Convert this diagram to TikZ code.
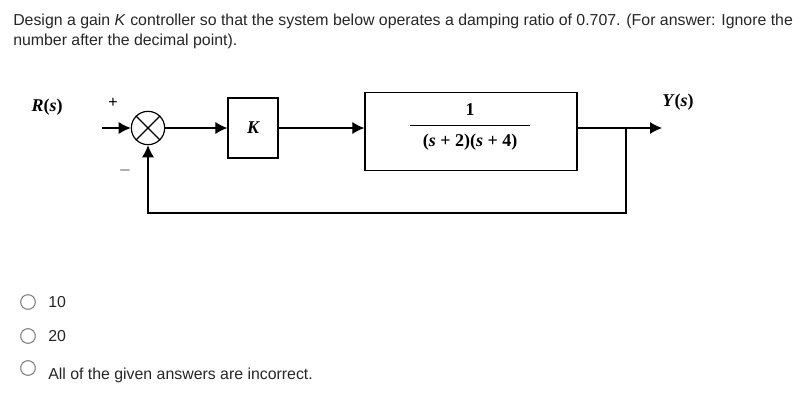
\documentclass[tikz,border=0pt]{standalone}
\usepackage{fontspec}
\setmainfont{Liberation Sans}
\newfontfamily\mathser{Liberation Serif}
\usetikzlibrary{arrows.meta}
\begin{document}
\begin{tikzpicture}[x=0.75pt,y=-0.75pt,
  txt/.style={anchor=west,inner sep=0,font=\fontsize{11.9}{14}\selectfont,text=black!85},
  lbl/.style={inner sep=0,font=\mathser\bfseries\fontsize{13.5}{16}\selectfont},
  blk/.style={draw,line width=0.9pt,inner sep=0},
  sig/.style={line width=0.8pt,-{Latex[length=9pt,width=9pt]}},
  radio/.style={draw=black!50,line width=0.8pt,circle,minimum size=11pt,inner sep=0}]
\useasboundingbox (0,0) rectangle (805,400);
\node[txt] (q1) at (13,21) {Design a gain \textit{K} controller so that the system below operates a damping ratio of 0.707. (For answer: Ignore the};
\node[txt] (q2) at (13,41) {number after the decimal point).};
% diagram
\node[circle,draw,line width=0.9pt,minimum size=25pt,inner sep=0] (sum) at (148,128) {};
\draw[line width=0.9pt] (sum.north west) -- (sum.south east) (sum.north east) -- (sum.south west);
\node[blk,minimum width=37.5pt,minimum height=45pt] (K) at (253,128) {};
\node[lbl] at (K) {\itshape K};
\node[blk,minimum width=159pt,minimum height=58pt] (G) at (471,131.5) {};
\node[lbl] (num) at (470,110) {1};
\draw[line width=0.7pt] (410,125) -- (530,125);
\node[lbl] (den) at (470,142) {(\textit{s} + 2)(\textit{s} + 4)};
\node[lbl] (R) at (47,107) {\textit{R}(\textit{s})};
\node[lbl] (Y) at (678,102) {\textit{Y}(\textit{s})};
\node[inner sep=0,font=\large] (plus) at (113,103) {+};
\node[inner sep=0,font=\large] (minus) at (125,170) {$-$};
\coordinate (in) at (102,128);
\coordinate (out) at (662,128);
\coordinate (tap) at (626,128);
\coordinate (fb) at (626,213);
\draw[sig] (in) -- (sum.west);
\draw[sig] (sum.east) -- (K.west);
\draw[sig] (K.east) -- (G.west |- K.east);
\draw[sig] (G.east |- K.east) -- (out);
\draw[sig] (tap) -- (fb) -- (sum.south |- fb) -- (sum.south);
% answers
\node[radio] (r1) at (28,302) {};
\node[radio] (r2) at (28,336) {};
\node[radio] (r3) at (28,368) {};
\node[txt] (a1) at (48,302) {10};
\node[txt] (a2) at (48,336) {20};
\node[txt] (a3) at (48,375) {All of the given answers are incorrect.};
\end{tikzpicture}
\end{document}
